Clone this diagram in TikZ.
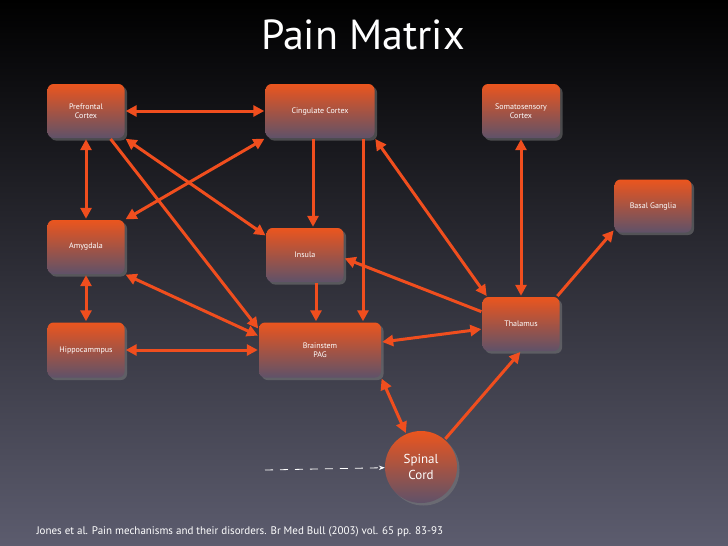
\documentclass[tikz,border=0pt]{standalone}
\usepackage{fontspec}
\setmainfont{PT Sans}
\usepackage{tikz}
\usetikzlibrary{arrows.meta, positioning, shadows}
\definecolor{painred}{RGB}{240, 78, 30}
\definecolor{boxtop}{RGB}{235, 85, 30}
\definecolor{boxbot}{RGB}{95, 82, 105}
\definecolor{bgmid}{RGB}{30, 30, 55}
\definecolor{bgbot}{RGB}{92, 92, 110}

\begin{document}
\begin{tikzpicture}[
    x=1pt, y=-1pt,
    region/.style={rectangle, rounded corners=6pt, minimum width=77pt, minimum height=54pt, align=center,
        top color=boxtop, bottom color=boxbot, text=white, font=\fontsize{8}{9.5}\selectfont,
        drop shadow={opacity=0.5}},
    cord/.style={circle, minimum size=72pt, top color=boxtop, bottom color=boxbot, text=white,
        align=center, font=\fontsize{13}{16}\selectfont, drop shadow={opacity=0.5}},
    arrow/.style={-{Triangle[length=11pt,width=11pt]}, line width=3pt, draw=painred, shorten >=1pt, shorten <=1pt},
    both/.style={arrow, {Triangle[length=11pt,width=11pt]}-{Triangle[length=11pt,width=11pt]}}
]
    % background
    \shade[top color=black, middle color=bgmid, bottom color=bgbot] (0,0) rectangle (728,546);
    \useasboundingbox (0,0) rectangle (728,546);

    \node[text=white, font=\fontsize{42}{44}\selectfont] (title) at (363,35) {Pain Matrix};

    % Regions
    \node[region] (pfc) at (86,111) {Prefrontal\\Cortex};
    \node[region, minimum width=109pt] (cing) at (320,111) {Cingulate Cortex};
    \node[region, minimum width=78pt] (soma) at (521,111) {Somatosensory\\Cortex};
    \node[region, minimum height=53pt] (basal) at (653,206) {Basal Ganglia};
    \node[region] (amyg) at (86,247) {Amygdala};
    \node[region] (insula) at (305,255) {Insula};
    \node[region, minimum height=55pt] (hippo) at (86,350) {Hippocammpus};
    \node[region, minimum width=122pt, minimum height=55pt] (brain) at (320,350) {Brainstem\\PAG};
    \node[region] (thal) at (521,324) {Thalamus};
    \node[cord] (spinal) at (421,467) {Spinal\\Cord};
    \coordinate (inp) at (265,470);

    % Connections
    \draw[both] (pfc) -- (cing);
    \draw[both] (pfc) -- (amyg);
    \draw[both] (amyg) -- (hippo);
    \draw[both] (hippo) -- (brain);
    \draw[arrow] ([xshift=24pt]pfc.south) -- ([yshift=-7pt]brain.north west);
    \draw[both] (pfc.south east) -- ([yshift=19pt]insula.west);
    \draw[both] (cing.south west) -- (amyg.north east);
    \draw[both] (amyg.south east) -- ([yshift=14pt]brain.west);
    \draw[arrow] ([xshift=-7pt]cing.south) -- ([xshift=8pt]insula.north);
    \draw[arrow] ([xshift=43pt]cing.south) -- ([xshift=43pt]brain.north);
    \draw[arrow] ([xshift=11pt]insula.south) -- ([xshift=-4pt]brain.north);
    \draw[arrow] ([yshift=12pt]thal.west) -- ([yshift=-3pt]insula.east);
    \draw[both] (cing.south east) -- ([xshift=5pt]thal.north west);
    \draw[both] (soma) -- (thal);
    \draw[arrow] ([xshift=-3pt]thal.north east) -- ([yshift=3pt]basal.south west);
    \draw[both] (brain) -- (thal);
    \draw[both] (brain.south east) -- (spinal);
    \draw[arrow] (spinal) -- (thal.south);
    \draw[white, thick, dash pattern=on 8pt off 7pt, -{Stealth[length=6pt]}] (inp) -- (spinal);

    \node[text=white, font=\fontsize{11}{13}\selectfont, anchor=west] (cite) at (33,532)
        {Jones et al. Pain mechanisms and their disorders. Br Med Bull (2003) vol. 65 pp. 83-93};
\end{tikzpicture}
\end{document}
